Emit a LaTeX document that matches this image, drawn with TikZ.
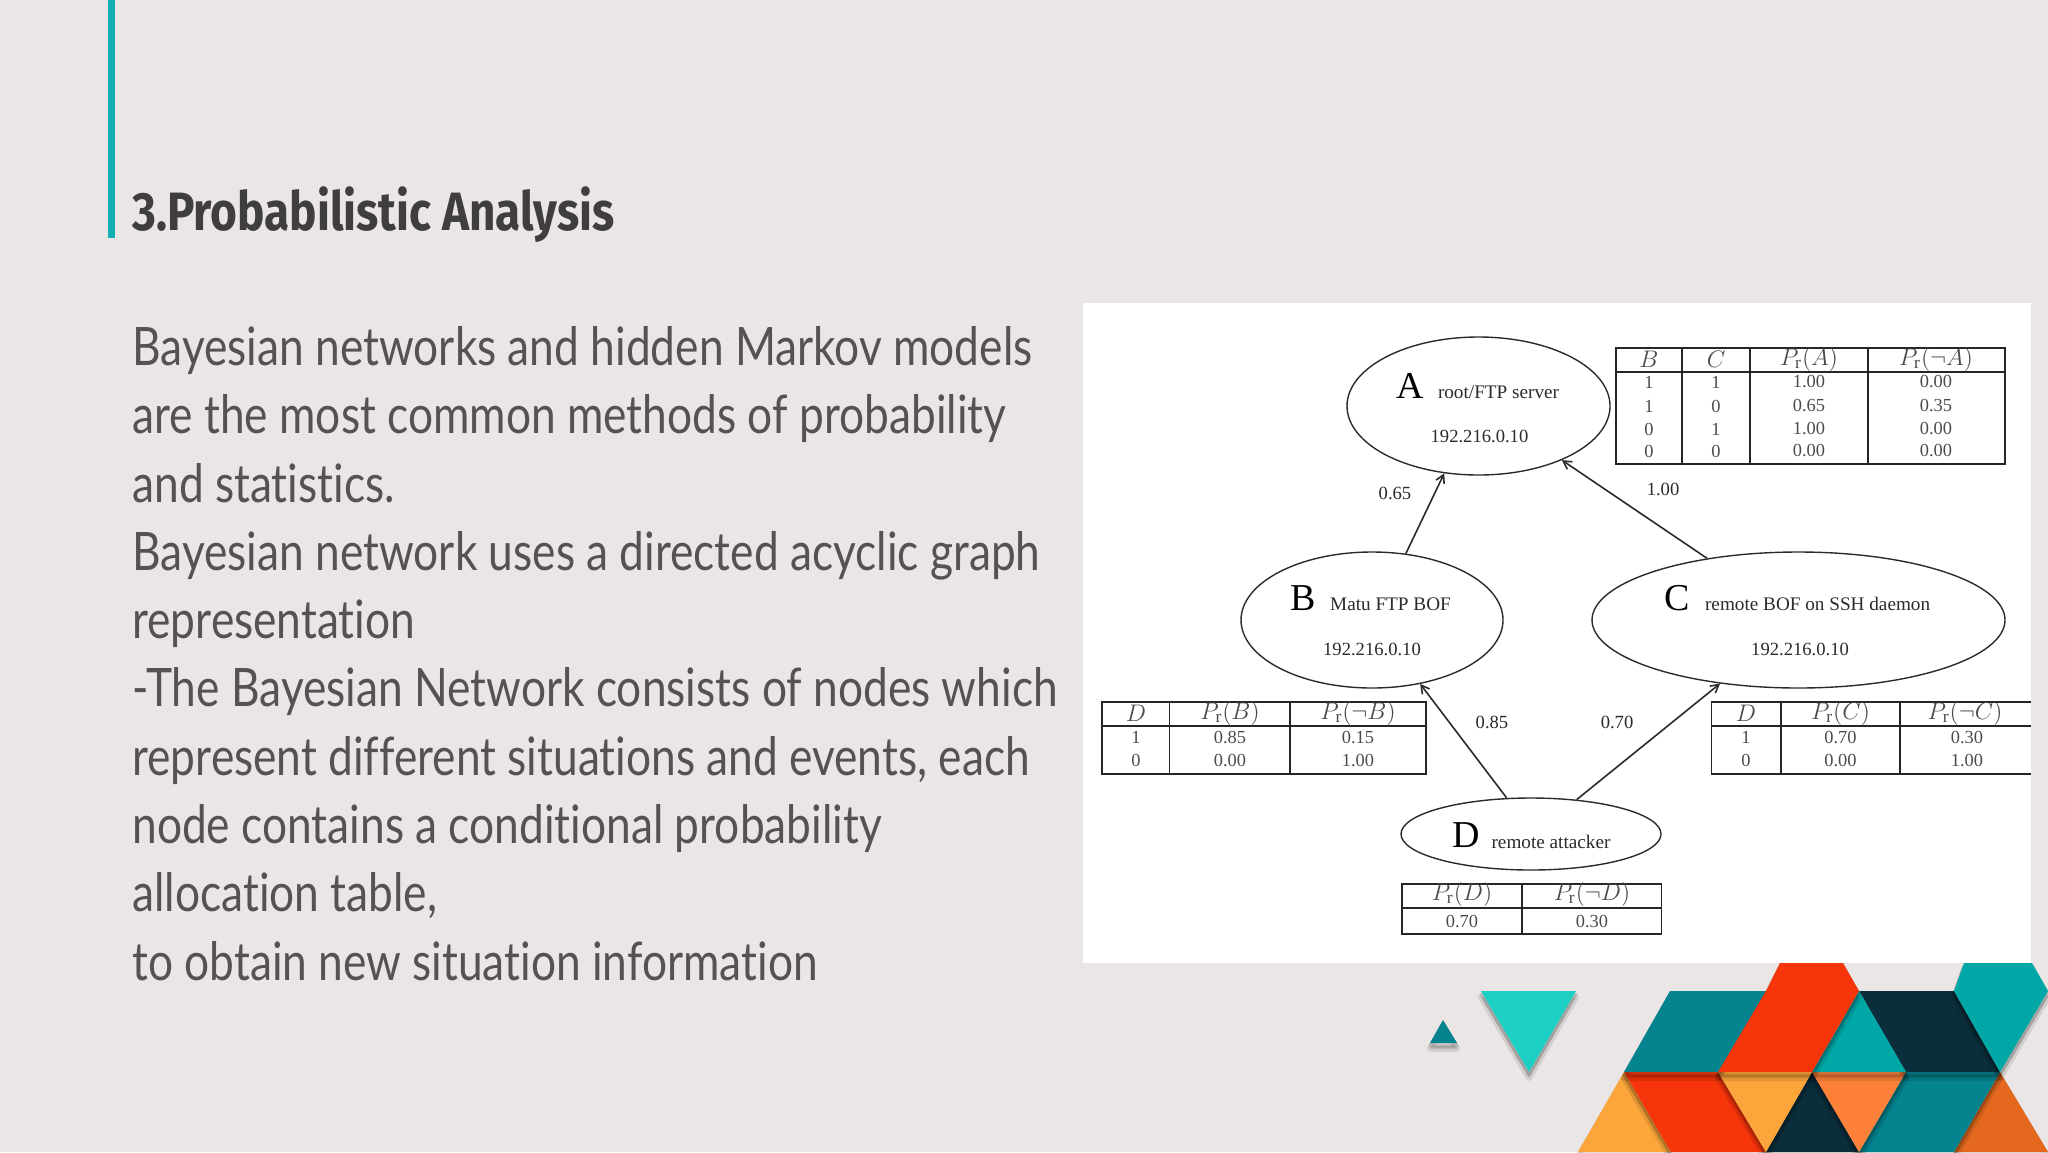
\documentclass[tikz,border=0pt]{standalone}
\usepackage{fontspec}
\usetikzlibrary{shapes.geometric,arrows.meta}
\setmainfont{Liberation Serif}
\newfontfamily\bodyfont[FakeStretch=0.835,Ligatures=NoCommon]{Lato}
\newfontfamily\titlefont[FakeStretch=0.85,Ligatures=NoCommon]{Fira Sans}
\definecolor{bgc}{HTML}{E9E6E5}
\definecolor{barc}{HTML}{12AEB2}
\definecolor{inkc}{HTML}{555252}
\definecolor{titlec}{HTML}{3F3D3D}
\definecolor{tealA}{HTML}{05838F}
\definecolor{tealB}{HTML}{00A7A7}
\definecolor{tealC}{HTML}{1ECFC3}
\definecolor{redc}{HTML}{F6350B}
\definecolor{navyc}{HTML}{0B2E3C}
\definecolor{yellc}{HTML}{FBA53A}
\definecolor{orac}{HTML}{FD8139}
\definecolor{dorac}{HTML}{E4691F}
\definecolor{scanink}{HTML}{2B2B2B}
\tikzset{
  x=0.5pt,y=-0.5pt,
  vertex/.style={draw=scanink,ellipse,line width=0.7pt,inner sep=0pt,fill=white},
  bigl/.style={font=\fontsize{19}{19}\selectfont,text=black,inner sep=0pt},
  small/.style={font=\fontsize{9.6}{10}\selectfont,text=scanink,inner sep=0pt},
  ipl/.style={font=\fontsize{9.3}{10}\selectfont,text=scanink,inner sep=0pt},
  cell/.style={font=\fontsize{9.2}{10}\selectfont,text=scanink!85,inner sep=0pt},
  head/.style={font=\fontsize{12.5}{13}\selectfont,text=scanink!85,inner sep=0pt},
  edge/.style={draw=scanink,line width=0.8pt,-{Straight Barb[length=4pt,width=4.5pt]}},
  rule/.style={draw=black!85,line width=0.7pt},
  thick rule/.style={draw=black!85,line width=1.1pt},
}
\newcommand{\facet}[2]{%
  \draw[black,fill=black,opacity=.10,line width=3pt,line join=round,shift={(0,6)}] #2 -- cycle;
  \draw[black,opacity=.12,line width=1.5pt,line join=round,shift={(0,3)}] #2 -- cycle;
  \fill[#1] #2 -- cycle;}
\begin{document}
\begin{tikzpicture}
\useasboundingbox (0,0) rectangle (2048,1152);
\clip (0,0) rectangle (2048,1152);
\fill[bgc] (0,0) rectangle (2048,1152);
\fill[barc] (108,0) rectangle (115,238);

\node[anchor=base west,inner sep=0pt,text=titlec,font=\fontsize{27}{30}\selectfont\titlefont\bfseries] (title) at (132,230) {3.Probabilistic Analysis};

\node[anchor=north west,inner sep=0pt,align=left,text=inkc,font=\fontsize{26.5}{34.15}\selectfont\bodyfont] (body) at (132,326) {Bayesian networks and hidden Markov models\\
are the most common methods of probability\\
and statistics.\\
Bayesian network uses a directed acyclic graph\\
representation\\
-The Bayesian Network consists of nodes which\\
represent different situations and events, each\\
node contains a conditional probability\\
allocation table,\\
to obtain new situation information};

% decorative facets
\facet{tealA}{(1443,1020) -- (1457,1043) -- (1430,1043)}
\facet{tealC}{(1481,991) -- (1576,991) -- (1529,1072)}
\facet{yellc}{(1624,1072) -- (1671,1152) -- (1578,1152)}
\facet{navyc}{(1812,1072) -- (1859,1152) -- (1766,1152)}
\facet{redc}{(1624,1072) -- (1718,1072) -- (1766,1152) -- (1671,1152)}
\facet{yellc}{(1718,1072) -- (1812,1072) -- (1766,1152)}
\facet{dorac}{(2000,1072) -- (2048,1152) -- (1954,1152)}
\facet{tealA}{(1906,1072) -- (2000,1072) -- (1954,1152) -- (1859,1152)}
\facet{orac}{(1812,1072) -- (1906,1072) -- (1859,1152)}
\facet{tealA}{(1670,991) -- (1770,991) -- (1718,1072) -- (1624,1072)}
\facet{navyc}{(1859,991) -- (1954,991) -- (2000,1072) -- (1906,1072)}
\facet{tealB}{(1859,991) -- (1906,1072) -- (1812,1072)}
\facet{redc}{(1780,963) -- (1843,963) -- (1859,991) -- (1812,1072) -- (1718,1072) -- (1766,991)}
\facet{tealB}{(1964,963) -- (2032,963) -- (2048,991) -- (2000,1072) -- (1954,991)}

% scanned figure
\fill[white] (1083,303) rectangle (2031,963);

\node[vertex,minimum width=131.5pt,minimum height=69pt] (nA) at (1478.5,406) {};
\node[vertex,minimum width=131pt,minimum height=68pt] (nB) at (1372,620) {};
\node[vertex,minimum width=206.5pt,minimum height=68pt] (nC) at (1798.5,620) {};
\node[vertex,minimum width=130pt,minimum height=36pt] (nD) at (1531,834) {};

\draw[edge] (nB.63.8) -- (nA.243);
\draw[edge] (nC.146.9) -- (nA.-33);
\draw[edge] (nD.124.8) -- (nB.-53.4);
\draw[edge] (nD.37.9) -- (nC.219.3);

\node[bigl] (la) at (1410,386) {A};
\node[small] (ta) at (1498.5,392) {root/FTP server};
\node[ipl] (ia) at (1479.5,436) {192.216.0.10};
\node[bigl] (lb) at (1303.5,598) {B};
\node[small] (tb) at (1390.5,604) {Matu FTP BOF};
\node[ipl] (ib) at (1372,649) {192.216.0.10};
\node[bigl] (lc) at (1677.5,598) {C};
\node[small] (tc) at (1817.6,604) {remote BOF on SSH daemon};
\node[ipl] (ic) at (1800,649) {192.216.0.10};
\node[bigl] (ld) at (1466,835) {D};
\node[small] (td) at (1551,842) {remote attacker};

\node[ipl] (e1) at (1395,493) {0.65};
\node[ipl] (e2) at (1663,489) {1.00};
\node[ipl] (e3) at (1492,722) {0.85};
\node[ipl] (e4) at (1617,722) {0.70};

% table A
\draw[rule] (1616,348) rectangle (2005,464);
\draw[rule] (1682,348) -- (1682,464) (1750,348) -- (1750,464) (1868,348) -- (1868,464);
\draw[thick rule] (1616,372) -- (2005,372);
\node[head] (a01) at (1649,359) {$B$};
\node[head] (a02) at (1716,359) {$C$};
\node[head] (a03) at (1809,359) {$P_{\mathrm{r}}(A)$};
\node[head] (a04) at (1936,359) {$P_{\mathrm{r}}(\neg A)$};
\node[cell] (a11) at (1649,382) {1};
\node[cell] (a12) at (1716,382) {1};
\node[cell] (a13) at (1809,382) {1.00};
\node[cell] (a14) at (1936,382) {0.00};
\node[cell] (a21) at (1649,406) {1};
\node[cell] (a22) at (1716,406) {0};
\node[cell] (a23) at (1809,406) {0.65};
\node[cell] (a24) at (1936,406) {0.35};
\node[cell] (a31) at (1649,429) {0};
\node[cell] (a32) at (1716,429) {1};
\node[cell] (a33) at (1809,429) {1.00};
\node[cell] (a34) at (1936,429) {0.00};
\node[cell] (a41) at (1649,451) {0};
\node[cell] (a42) at (1716,451) {0};
\node[cell] (a43) at (1809,451) {0.00};
\node[cell] (a44) at (1936,451) {0.00};

% table B
\draw[rule] (1102,702) rectangle (1426,774);
\draw[rule] (1169.5,702) -- (1169.5,774) (1290,702) -- (1290,774);
\draw[thick rule] (1102,726) -- (1426,726);
\node[head] (b01) at (1136,713) {$D$};
\node[head] (b02) at (1230,713) {$P_{\mathrm{r}}(B)$};
\node[head] (b03) at (1358,713) {$P_{\mathrm{r}}(\neg B)$};
\node[cell] (b11) at (1136,737) {1};
\node[cell] (b12) at (1230,737) {0.85};
\node[cell] (b13) at (1358,737) {0.15};
\node[cell] (b21) at (1136,760) {0};
\node[cell] (b22) at (1230,760) {0.00};
\node[cell] (b23) at (1358,760) {1.00};

% table C (runs off the figure's right edge)
\draw[rule] (2031,702) -- (1711.5,702) -- (1711.5,774) -- (2031,774);
\draw[rule] (1781,702) -- (1781,774) (1900,702) -- (1900,774);
\draw[thick rule] (1711.5,726) -- (2031,726);
\node[head] (c01) at (1746,713) {$D$};
\node[head] (c02) at (1840.5,713) {$P_{\mathrm{r}}(C)$};
\node[head] (c03) at (1965,713) {$P_{\mathrm{r}}(\neg C)$};
\node[cell] (c11) at (1746,737) {1};
\node[cell] (c12) at (1840.5,737) {0.70};
\node[cell] (c13) at (1967,737) {0.30};
\node[cell] (c21) at (1746,760) {0};
\node[cell] (c22) at (1840.5,760) {0.00};
\node[cell] (c23) at (1967,760) {1.00};

% table D
\draw[rule] (1402,884) rectangle (1661.5,934);
\draw[rule] (1522,884) -- (1522,934);
\draw[thick rule] (1402,908) -- (1661.5,908);
\node[head] (d01) at (1462,894) {$P_{\mathrm{r}}(D)$};
\node[head] (d02) at (1592,894) {$P_{\mathrm{r}}(\neg D)$};
\node[cell] (d11) at (1462,921) {0.70};
\node[cell] (d12) at (1592,921) {0.30};
\end{tikzpicture}
\end{document}
